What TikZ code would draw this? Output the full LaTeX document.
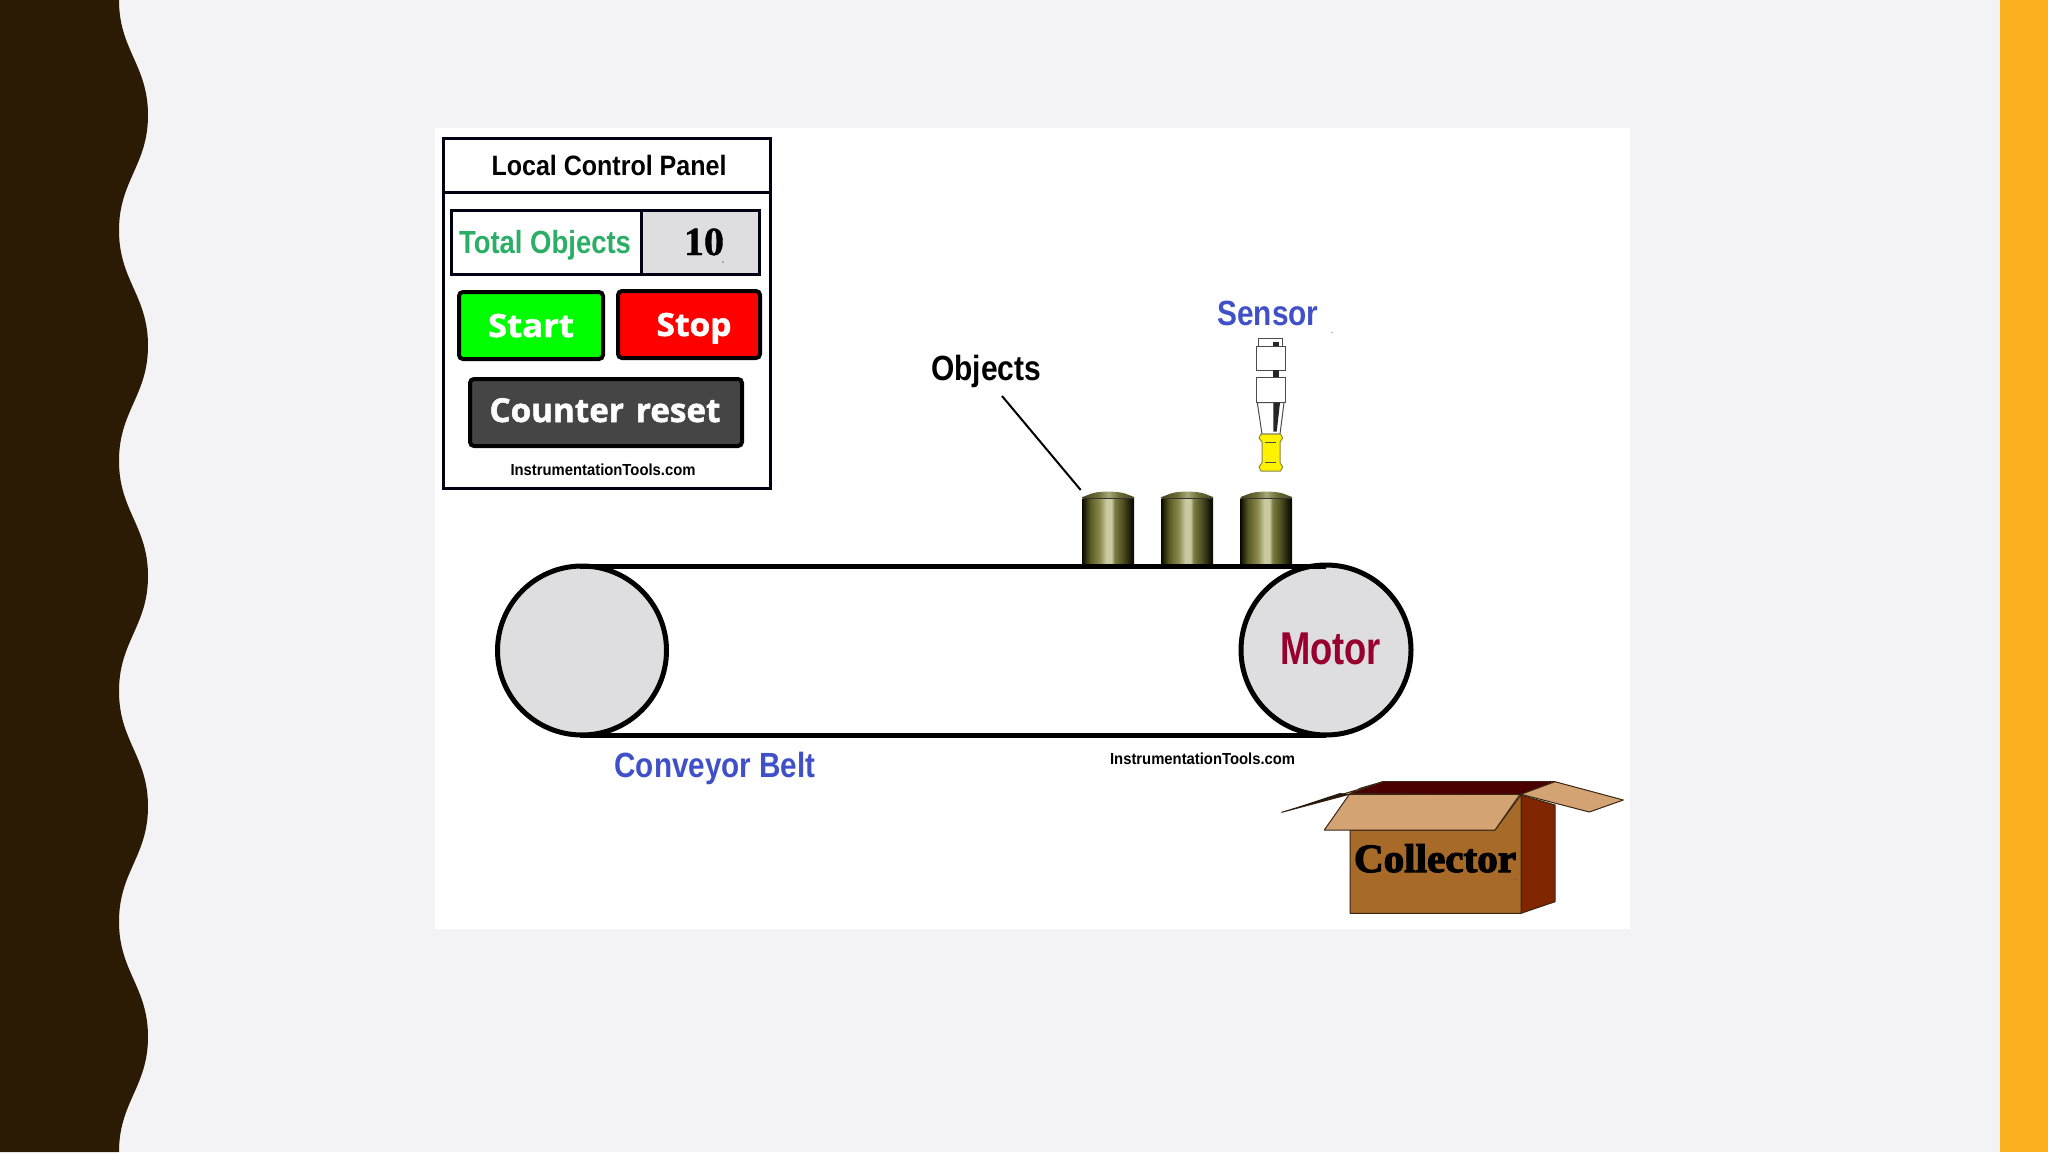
\documentclass[tikz,border=0pt]{standalone}
\usepackage{fontspec}
\setmainfont{Liberation Sans}
\newfontfamily\semi{Liberation Sans Bold}
\newfontfamily\btn[FakeBold=1.5]{Open Sans Bold}
\newfontfamily\srf[FakeBold=3]{Liberation Serif Bold}
\newfontfamily\srfnum[FakeBold=1]{Liberation Serif Bold}
\definecolor{pagebg}{HTML}{F3F3F5}
\definecolor{wavedark}{HTML}{2B1A04}
\definecolor{barorange}{HTML}{FBB01F}
\definecolor{panelgreen}{HTML}{2BAE66}
\definecolor{lightgrey}{HTML}{DEDEE0}
\definecolor{labelblue}{HTML}{4050C8}
\definecolor{motorred}{HTML}{98002E}
\definecolor{boxfront}{HTML}{A86A28}
\definecolor{boxside}{HTML}{7F2500}
\definecolor{boxin}{HTML}{4A0000}
\definecolor{boxflap}{HTML}{D4A373}
\definecolor{ca}{HTML}{0E0E02}
\definecolor{cb}{HTML}{585822}
\definecolor{cc}{HTML}{8E8E52}
\definecolor{cd}{HTML}{CACAA2}
\definecolor{ce}{HTML}{7C7C40}
\definecolor{cf}{HTML}{48481E}
\definecolor{cg}{HTML}{44441A}
\definecolor{ch}{HTML}{6E6E38}
\definecolor{ci}{HTML}{A8A878}
\pgfdeclarehorizontalshading{cylbody}{100bp}{color(0bp)=(ca); color(25bp)=(ca); color(32bp)=(cb); color(42bp)=(cc); color(48bp)=(cd); color(53bp)=(cd); color(56bp)=(ce); color(65bp)=(cf); color(73bp)=(ca); color(100bp)=(ca)}
\pgfdeclarehorizontalshading{cylcap}{100bp}{color(0bp)=(cg); color(25bp)=(cg); color(40bp)=(ch); color(50bp)=(ci); color(60bp)=(ch); color(75bp)=(cg); color(100bp)=(cg)}
\newcommand{\fw}[2]{\resizebox{#1pt}{\height}{#2}}
\tikzset{
  txt/.style={inner sep=0pt,outer sep=0pt,anchor=base},
  btnbox/.style={draw=black,line width=4pt,rounded corners=4pt,inner sep=0pt,outer sep=0pt,anchor=north west},
  pulley/.style={circle,draw=black,line width=5pt,fill=lightgrey,inner sep=0pt,outer sep=0pt},
  beltline/.style={line width=5pt,draw=black},
  panelline/.style={line width=3pt,draw=black!92!blue},
  cartline/.style={draw=black!70!brown,line width=1pt,line join=round},
  sens/.style={draw=black!70,line width=1pt,fill=white},
}
\begin{document}
\begin{tikzpicture}[x=1pt,y=-1pt]
\useasboundingbox (0,0) rectangle (2048,1152);
\fill[pagebg] (0,0) rectangle (2048,1152);
\fill[barorange] (2000,0) rectangle (2048,1152);
\fill[wavedark] (0,0) -- (119,0)
 .. controls (119,50) and (148,65) .. (148,115.2)
 .. controls (148,165.2) and (119,180.4) .. (119,230.4)
 .. controls (119,280.4) and (148,295.6) .. (148,345.6)
 .. controls (148,395.6) and (119,410.8) .. (119,460.8)
 .. controls (119,510.8) and (148,526) .. (148,576)
 .. controls (148,626) and (119,641.2) .. (119,691.2)
 .. controls (119,741.2) and (148,756.4) .. (148,806.4)
 .. controls (148,856.4) and (119,871.6) .. (119,921.6)
 .. controls (119,971.6) and (148,986.8) .. (148,1036.8)
 .. controls (148,1086.8) and (119,1102) .. (119,1152)
 -- (0,1152) -- cycle;
\fill[white] (435,128) rectangle (1630,929);

% panel
\draw[panelline] (443,138) rectangle (770,488);
\draw[panelline] (443,192) -- (770,192);
\node[txt] (title) at (609,175) {\fontsize{28}{30}\selectfont\semi \fw{235}{Local Control Panel}};
\fill[lightgrey] (641,210) rectangle (759,274);
\draw[panelline] (451,210) rectangle (759,274);
\draw[panelline] (641,210) -- (641,274);
\node[txt,text=panelgreen] (total) at (545,253) {\fontsize{32}{34}\selectfont\semi \fw{172}{Total Objects}};
\node[txt] (count) at (704,255) {\fontsize{40}{42}\selectfont\srfnum 10};
\fill[black] (723,262) circle (0.7);
\node[btnbox,fill=green,minimum width=144pt,minimum height=67pt] (start) at (459,292) {};
\node[btnbox,fill=red,minimum width=142pt,minimum height=67pt] (stop) at (618,291) {};
\node[btnbox,fill=black!73,minimum width=272pt,minimum height=67pt] (reset) at (470,379) {};
\node[txt,text=white] (startt) at (531,337) {\fontsize{32}{34}\selectfont\btn \fw{86}{Start}};
\node[txt,text=white] (stopt) at (694,336) {\fontsize{32}{34}\selectfont\btn \fw{75}{Stop}};
\node[txt,text=white] (resett) at (605,422) {\fontsize{33}{35}\selectfont\btn \fw{231}{Counter\hspace{0.1em} reset}};
\node[txt] (site1) at (603,475) {\fontsize{16}{18}\selectfont\semi \fw{185}{InstrumentationTools.com}};

% objects label and leader
\node[txt] (objlabel) at (986,380.5) {\fontsize{35}{37}\selectfont\semi \fw{110}{Objects}};
\coordinate (leadstart) at (1002,396);
\coordinate (leadend) at (1080.7,490);
\draw[black,line width=2pt] (leadstart) -- (leadend);

% objects
\foreach \xx in {1082.7,1161.7,1240.7}{
  \begin{scope}[shift={(\xx,0)}]
    \shade[shading=cylbody] (0,498) rectangle (51.3,564);
    \shade[shading=cylcap] (0,498) -- (0,497) -- (9,493.5) .. controls (15,492) .. (25.6,491.5) .. controls (36,492) .. (42.3,493.5) -- (51.3,497) -- (51.3,498) -- cycle;
    \draw[black!80,line width=0.6pt] (0,498) -- (51.3,498);
  \end{scope}
}

% conveyor
\node[pulley,minimum size=169pt] (pl) at (582,650.5) {};
\node[pulley,minimum size=170pt] (pr) at (1326,650) {};
\draw[beltline] (pl.north) ++(-2,0) coordinate (tl) -- (tl -| pr);
\draw[beltline] (pl.south) ++(-2,0) coordinate (bl) -- (bl -| pr);
\node[txt,text=motorred] (motor) at (1330.5,664) {\fontsize{46}{48}\selectfont\semi \fw{101}{Motor}};
\node[txt,text=labelblue] (belt) at (715,777) {\fontsize{35}{37}\selectfont\semi \fw{201}{Conveyor Belt}};
\node[txt] (site2) at (1202.6,764) {\fontsize{16}{18}\selectfont\semi \fw{185}{InstrumentationTools.com}};

% sensor
\node[txt,text=labelblue] (sensort) at (1268,325) {\fontsize{35}{37}\selectfont\semi \fw{101}{Sensor}};
\draw[sens] (1258.3,338.3) rectangle (1282.7,346);
\fill[black!85] (1273.3,342.3) rectangle (1279.3,346);
\draw[sens] (1256,346) rectangle (1285,370);
\fill[black!85] (1273.3,370) rectangle (1279.3,377.7);
\draw[sens] (1256,377.7) rectangle (1285,402.7);
\draw[sens] (1257.3,402.7) -- (1262,434) -- (1280,434) -- (1284,402.7) -- cycle;
\fill[black!85] (1273.3,402.7) -- (1280,402.7) -- (1276.7,431.7) -- (1273.3,431.7) -- cycle;
\draw[fill=yellow,draw=black!40!yellow!80!black,line width=1pt,line join=round]
 (1261,434) -- (1280.5,434) -- (1282.7,438) -- (1280,442) -- (1280,462.7) -- (1282.7,467) -- (1280.5,471) -- (1261,471) -- (1259,467) -- (1262,462.7) -- (1262,442) -- (1259,438) -- cycle;
\draw[black!70,line width=1pt] (1265,442.3) -- (1276,442.3);
\draw[black!70,line width=1pt] (1265,462.7) -- (1276,462.7);
\fill[black!60] (1332,332.5) circle (0.7);

% collector box
\draw[cartline,fill=boxin] (1350,793.5) -- (1382.7,781.7) -- (1555,781.7) -- (1521,795) -- cycle;
\draw[cartline,fill=boxflap] (1281.7,812.3) -- (1370,786) -- (1382.7,781.7) -- (1360,788.3) -- (1349.3,794.3) -- cycle;
\fill[black!80!brown] (1281.7,812.3) -- (1340,793) -- (1349.3,794.3) -- (1300,807) -- cycle;
\draw[cartline,fill=boxside] (1521,795) -- (1555,805) -- (1555,901.7) -- (1521,913.3) -- cycle;
\draw[cartline,fill=boxfront] (1350,830) -- (1495,830) -- (1521,795) -- (1521,913.3) -- (1350,913.3) -- cycle;
\draw[cartline,fill=boxflap] (1349.3,794.3) -- (1520,794.3) -- (1495,830) -- (1324.3,830) -- cycle;
\draw[cartline,fill=boxflap] (1521,794.3) -- (1555,781.7) -- (1623.3,800) -- (1589.3,812) -- cycle;
\node[txt] (collector) at (1435,872) {\fontsize{40}{42}\selectfont\srf \fw{162}{Collector}};
\fill[black!70] (1515,879.5) circle (0.6);
\end{tikzpicture}
\end{document}
